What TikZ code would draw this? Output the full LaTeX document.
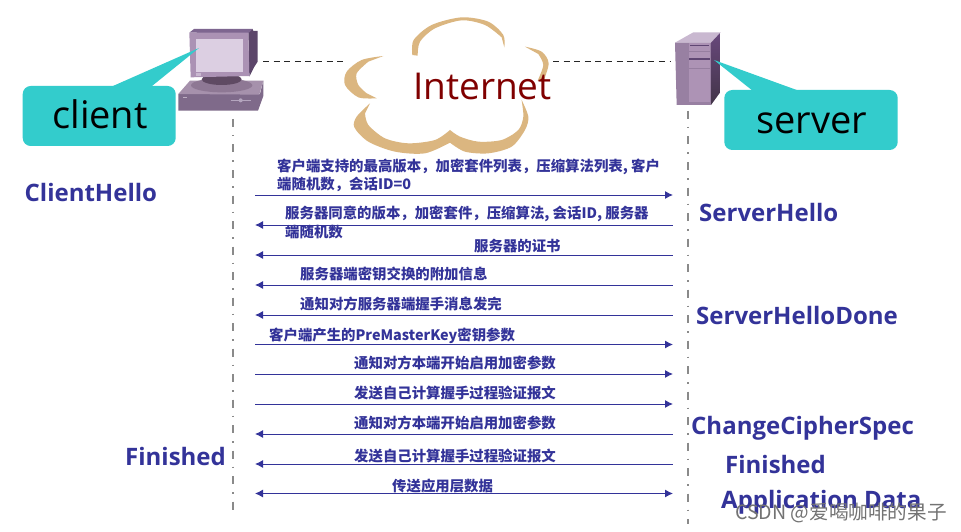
\documentclass[tikz,border=0pt]{standalone}
\usepackage{fontspec}
\usetikzlibrary{arrows.meta}
\setmainfont{Open Sans}
\newfontfamily\cjk{Noto Sans CJK SC}
\definecolor{msgblue}{HTML}{333399}
\definecolor{calloutc}{HTML}{33CCCC}
\definecolor{cloudtan}{HTML}{DBB680}
\definecolor{inetred}{HTML}{800000}
\definecolor{lifegray}{HTML}{8A8A8A}
\tikzset{
  msg/.style={font=\cjk\bfseries\fontsize{14.4}{14.4}\selectfont,text=msgblue,anchor=west,inner sep=0pt},
  lbl/.style={font=\bfseries\fontsize{24}{24}\selectfont,text=msgblue,anchor=west,inner sep=0pt},
  arrowline/.style={draw=msgblue,line width=1pt},
  lifeline/.style={draw=lifegray,line width=1.8pt,dash pattern=on 8pt off 8pt on 1.5pt off 8pt},
  netline/.style={draw=black!85,line width=1.2pt,dash pattern=on 6pt off 4.6pt},
  rarrow/.style={arrowline,-{Latex[length=8pt,width=8pt]}},
  larrow/.style={arrowline,{Latex[length=8pt,width=8pt]}-},
  barrow/.style={arrowline,{Latex[length=8pt,width=8pt]}-{Latex[length=8pt,width=8pt]}},
  callout/.style={fill=calloutc,draw=none},
  title/.style={inner sep=0pt,text=black}
}
\begin{document}
\begin{tikzpicture}[x=1pt,y=-1pt]
\useasboundingbox (0,0) rectangle (961,532);
\fill[white] (0,0) rectangle (961,532);
% cloud
\begin{scope}[shift={(335,10)},x=0.3333pt,y=-0.3333pt,fill=cloudtan]
\fill plot[smooth] coordinates {(232,135)(236,90)(290,45)(380,22)(460,35)(505,75)(508,112)} -- plot[smooth] coordinates {(500,82)(450,45)(380,31)(300,55)(255,95)(248,137)} -- cycle;
\fill plot[smooth] coordinates {(570,110)(620,125)(641,160)(625,215)} -- plot[smooth] coordinates {(608,212)(625,165)(610,132)} -- cycle;
\fill plot[smooth] coordinates {(145,138)(80,150)(35,185)(30,225)(70,262)(125,265)} -- plot[smooth] coordinates {(95,250)(70,225)(65,190)(100,155)} -- cycle;
\fill plot[smooth] coordinates {(105,280)(65,320)(58,352)(100,395)(180,425)(270,430)(345,398)} -- plot[smooth] coordinates {(345,398)(390,425)(460,430)(530,410)(570,360)(580,320)(560,270)} -- plot[smooth] coordinates {(560,272)(565,320)(550,360)(500,390)(430,395)(375,380)(345,360)} -- plot[smooth] coordinates {(345,360)(300,390)(220,400)(150,385)(100,345)(90,310)} -- cycle;
\end{scope}
\node[inner sep=0pt,text=inetred,font=\fontsize{37}{37}\selectfont] (inet) at (482.5,86) {Internet};
% network dashes
\coordinate (n1) at (263,61.5); \coordinate (n2) at (345,61.5);
\coordinate (n3) at (553,61.5); \coordinate (n4) at (670,61.5);
\draw[netline] (n1) -- (n2);
\draw[netline] (n3) -- (n4);
% computer
\begin{scope}[shift={(170,20)},x=0.3333pt,y=-0.3333pt]
\fill[fill={rgb,255:red,127;green,106;blue,138}] (25,222) -- (270,222) -- (280,182) -- (280,228) -- (264,272) -- (25,272) -- cycle;
\fill[fill={rgb,255:red,166;green,145;blue,172}] (25,222) -- (60,182) -- (280,182) -- (268,224) -- cycle;
\fill[fill={rgb,255:red,142;green,120;blue,148}] (155,196) ellipse [x radius=92,y radius=21];
\fill[fill={rgb,255:red,95;green,74;blue,99}] (155,178) ellipse [x radius=60,y radius=17];
\fill[fill={rgb,255:red,92;green,70;blue,106}] (235,38) -- (248,27) -- (250,33) -- (263,33) -- (263,125) -- (252,142) -- (238,170) -- cycle;
\fill[fill={rgb,255:red,126;green,102;blue,144}] (58,38) -- (72,27) -- (248,27) -- (235,40) -- cycle;
\fill[fill={rgb,255:red,171;green,146;blue,180}] (58,38) -- (235,38) -- (238,168) -- (62,172) -- cycle;
\fill[fill={rgb,255:red,220;green,207;blue,226}] (78,57) rectangle (218,155);
\fill[fill={rgb,255:red,201;green,184;blue,208}] (78,160) rectangle (93,167);
\fill[fill={rgb,255:red,190;green,175;blue,195}] (38,230) rectangle (50,235);
\draw[draw={rgb,255:red,180;green,165;blue,190},line width=0.7pt] (182,241) -- (242,241);
\fill[fill={rgb,255:red,180;green,165;blue,190}] (212,241) circle (6);
\end{scope}
% server
\begin{scope}[shift={(665,25)},x=0.3333pt,y=-0.3333pt]
\fill[fill={rgb,255:red,201;green,184;blue,208}] (30,53) -- (85,22) -- (167,22) -- (138,53) -- cycle;
\fill[fill={rgb,255:red,152;green,128;blue,162}] (30,53) -- (138,53) -- (138,240) -- (35,240) -- cycle;
\fill[fill={rgb,255:red,173;green,147;blue,181}] (72,53) rectangle (134,230);
\shade[top color={rgb,255:red,104;green,72;blue,124},bottom color={rgb,255:red,66;green,52;blue,72}] (138,53) -- (167,22) -- (167,200) -- (138,240) -- cycle;
\fill[fill={rgb,255:red,95;green,70;blue,115}] (75,60) rectangle (133,64);
\fill[fill={rgb,255:red,95;green,70;blue,115}] (72,98) rectangle (134,104);
\fill[fill={rgb,255:red,150;green,126;blue,160}] (72,79) rectangle (134,82);
\fill[fill={rgb,255:red,150;green,126;blue,160}] (72,128) rectangle (134,133);
\end{scope}
% callouts
\fill[callout] (113,86) -- (199,48) -- (152,86) -- cycle;
\fill[callout,rounded corners=8pt] (22.7,86) rectangle (175.7,146);
\node[title,font=\fontsize{38}{38}\selectfont] (client) at (100,114.5) {client};
\fill[callout] (751.7,90) -- (714,60) -- (796.7,90) -- cycle;
\fill[callout,rounded corners=8pt] (724.3,90) rectangle (897.7,150);
\node[title,font=\fontsize{38}{38}\selectfont] (server) at (811.5,123) {server};
% lifelines
\coordinate (c0) at (233,119); \coordinate (c1) at (233,517);
\coordinate (s0) at (688,111); \coordinate (s1) at (688,524);
\draw[lifeline] (c0) -- (c1);
\draw[lifeline] (s0) -- (s1);
% message arrows
\foreach \i/\y/\st in {1/195/rarrow,2/225/larrow,3/255/larrow,4/285/larrow,5/315/larrow,6/344.5/rarrow,7/374/rarrow,8/404/rarrow,9/434/larrow,10/464/larrow,11/493.5/barrow}{
  \coordinate (a\i) at (255,\y);
  \coordinate (b\i) at (673,\y);
  \draw[\st] (a\i) -- (b\i);
}
% message labels
\node[msg] (m1a) at (277,167) {客户端支持的最高版本，加密套件列表，压缩算法列表, 客户};
\node[msg] (m1b) at (277,184.5) {端随机数，会话ID=0};
\node[msg] (m2a) at (285,214) {服务器同意的版本，加密套件，压缩算法, 会话ID, 服务器};
\node[msg] (m2b) at (285,232) {端随机数};
\node[msg] (m3) at (474,246) {服务器的证书};
\node[msg] (m4) at (300,274) {服务器端密钥交换的附加信息};
\node[msg] (m5) at (300,304) {通知对方服务器端握手消息发完};
\node[msg] (m6) at (269,336) {客户端产生的PreMasterKey密钥参数};
\node[msg] (m7) at (354,363) {通知对方本端开始启用加密参数};
\node[msg] (m8) at (354,393) {发送自己计算握手过程验证报文};
\node[msg] (m9) at (354,423) {通知对方本端开始启用加密参数};
\node[msg] (m10) at (354,456) {发送自己计算握手过程验证报文};
\node[msg] (m11) at (392,486) {传送应用层数据};
% side labels
\node[lbl] (ch) at (24.5,192) {ClientHello};
\node[lbl] (fc) at (125,456) {Finished};
\node[lbl] (sh) at (699,212.5) {ServerHello};
\node[lbl] (shd) at (696,315.5) {ServerHelloDone};
\node[lbl] (ccs) at (691,428) {ChangeCipherSpec};
\node[lbl] (fs) at (725,464) {Finished};
\node[lbl] (ad) at (721,502) {Application Data};
\node[inner sep=0pt,anchor=west,text=black!55,font=\cjk\fontsize{19.6}{19.6}\selectfont] (wm) at (735,513) {CSDN @爱喝咖啡的果子};
\end{tikzpicture}
\end{document}
